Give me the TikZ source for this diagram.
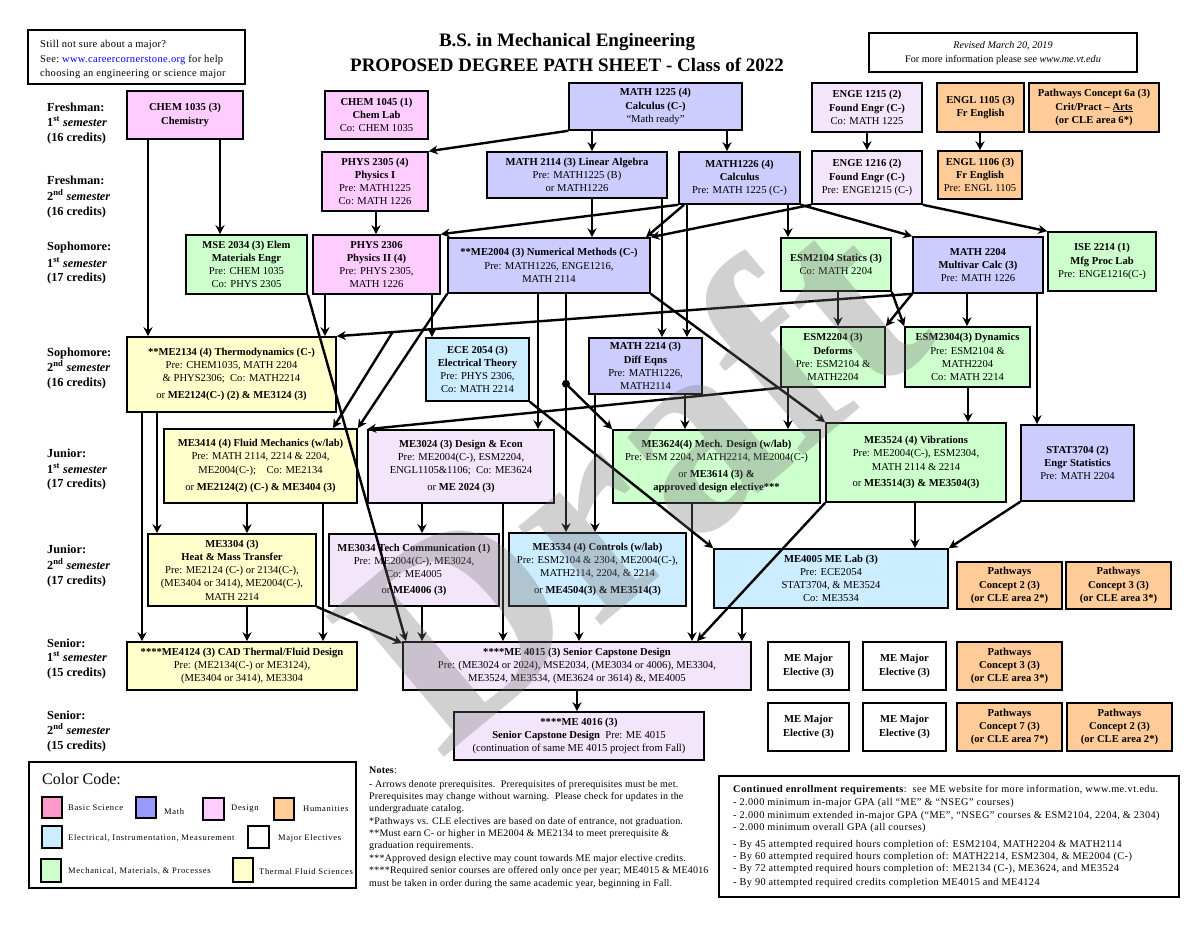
\documentclass[tikz,border=0pt]{standalone}
\usepackage{fontspec}
\setmainfont{Liberation Serif}
\usetikzlibrary{arrows.meta,calc}
\definecolor{basic}{HTML}{FFCCFF}
\definecolor{basicL}{HTML}{FF99CC}
\definecolor{mathc}{HTML}{CCCCFF}
\definecolor{mathL}{HTML}{9999FF}
\definecolor{design}{HTML}{F4E6FA}
\definecolor{designL}{HTML}{FFCCFF}
\definecolor{hum}{HTML}{FFCC99}
\definecolor{elec}{HTML}{CCECFF}
\definecolor{mech}{HTML}{CCFFCC}
\definecolor{therm}{HTML}{FFFFCC}
\definecolor{linkblue}{HTML}{0000FF}
\tikzset{
  box/.style={draw=black, line width=1.6pt, align=center, inner sep=1pt,
    font=\fontsize{10.6}{13.2}\selectfont},
  arr/.style={line width=2.4pt, -{Stealth[length=9pt,width=9pt,inset=3pt]}},
  lab/.style={anchor=base west, inner sep=0pt, font=\fontsize{12.3}{14}\selectfont\bfseries},
  note/.style={anchor=base west, inner sep=0pt, font=\fontsize{10}{12}\selectfont\addfontfeatures{LetterSpace=2}},
  cnote/.style={anchor=base west, inner sep=0pt, font=\fontsize{10.3}{12}\selectfont\addfontfeatures{LetterSpace=4}},
  swatch/.style={draw=black, line width=1.6pt},
  leg/.style={anchor=west, inner sep=0pt, font=\fontsize{8.5}{10}\selectfont\addfontfeatures{LetterSpace=8}},
}
\newcommand{\cbox}[7]{\node[box, fill=#6, minimum width={(#4)-(#2)}, minimum height={(#5)-(#3)}] (#1) at ({((#2)+(#4))/2},{((#3)+(#5))/2}) {#7};}
\newcommand{\vx}[3]{\draw[arr] (#1.south -| #3,0) -- (#2.north -| #3,0);}
\begin{document}
\begin{tikzpicture}[x=1pt,y=-1pt]
\useasboundingbox (0,0) rectangle (1200,927);
\fill[white] (0,0) rectangle (1200,927);

% header
\node[draw=black, line width=1.6pt, minimum width=217, minimum height=54, inner sep=0pt] (tl) at (136.5,57) {};
\node[note, font=\fontsize{10.5}{12}\selectfont\addfontfeatures{LetterSpace=3}] (tl1) at (40,47) {Still not sure about a major?};
\node[note, font=\fontsize{10.5}{12}\selectfont\addfontfeatures{LetterSpace=3}] (tl2) at (40,62) {See:\ \textcolor{linkblue}{www.careercornerstone.org} for help};
\node[note, font=\fontsize{10.5}{12}\selectfont\addfontfeatures{LetterSpace=3}] (tl3) at (40,76) {choosing an engineering or science major};
\node[font=\fontsize{19}{22}\selectfont\bfseries, inner sep=0pt] (t1) at (567,42) {B.S. in Mechanical Engineering};
\node[font=\fontsize{19}{22}\selectfont\bfseries, inner sep=0pt] (t2) at (567,65) {PROPOSED DEGREE PATH SHEET - Class of 2022};
\node[draw=black, line width=1.6pt, minimum width=268, minimum height=39, inner sep=0pt] (rev) at (1003,52.5) {};
\node[inner sep=0pt, font=\fontsize{10.2}{12}\selectfont\itshape] (rev1) at (1003,46) {Revised March 20, 2019};
\node[inner sep=0pt, font=\fontsize{10.2}{12}\selectfont] (rev2) at (1003,60) {For more information please see \textit{www.me.vt.edu}};

% semester labels
\node[lab] (f1a) at (47,111) {Freshman:};
\node[lab] (f1b) at (47,126) {1\textsuperscript{st} \textit{semester}};
\node[lab] (f1c) at (47,141) {(16 credits)};
\node[lab] (f2a) at (47,184) {Freshman:};
\node[lab] (f2b) at (47,200) {2\textsuperscript{nd} \textit{semester}};
\node[lab] (f2c) at (47,215) {(16 credits)};
\node[lab] (s1a) at (47,250) {Sophomore:};
\node[lab] (s1b) at (47,267) {1\textsuperscript{st} \textit{semester}};
\node[lab] (s1c) at (47,281) {(17 credits)};
\node[lab] (s2a) at (47,356) {Sophomore:};
\node[lab] (s2b) at (47,371) {2\textsuperscript{nd} \textit{semester}};
\node[lab] (s2c) at (47,386) {(16 credits)};
\node[lab] (j1a) at (47,457) {Junior:};
\node[lab] (j1b) at (47,473) {1\textsuperscript{st} \textit{semester}};
\node[lab] (j1c) at (47,487) {(17 credits)};
\node[lab] (j2a) at (47,553) {Junior:};
\node[lab] (j2b) at (47,569) {2\textsuperscript{nd} \textit{semester}};
\node[lab] (j2c) at (47,584) {(17 credits)};
\node[lab] (n1a) at (47,647) {Senior:};
\node[lab] (n1b) at (47,661) {1\textsuperscript{st} \textit{semester}};
\node[lab] (n1c) at (47,676) {(15 credits)};
\node[lab] (n2a) at (47,719) {Senior:};
\node[lab] (n2b) at (47,734) {2\textsuperscript{nd} \textit{semester}};
\node[lab] (n2c) at (47,749) {(15 credits)};

% course boxes
\cbox{chemA}{127}{91}{243}{139}{basic}{\textbf{CHEM 1035 (3)}\\\textbf{Chemistry}}
\cbox{chemB}{325}{91}{428}{139}{basic}{\textbf{CHEM 1045 (1)}\\\textbf{Chem Lab}\\Co: CHEM 1035}
\cbox{mathA}{569}{83}{742}{130}{mathc}{\textbf{MATH 1225 (4)}\\\textbf{Calculus (C-)}\\“Math ready”}
\cbox{engeA}{812}{83}{922}{132}{design}{\textbf{ENGE 1215 (2)}\\\textbf{Found Engr (C-)}\\Co: MATH 1225}
\cbox{englA}{937}{83}{1024}{132}{hum}{\textbf{ENGL 1105 (3)}\\\textbf{Fr English}}
\cbox{pathA}{1029}{83}{1159}{132}{hum}{\textbf{Pathways Concept 6a (3)}\\\textbf{Crit/Pract – \underline{Arts}}\\\textbf{(or CLE area 6*)}}
\cbox{physA}{322}{152}{428}{211}{basic}{\textbf{PHYS 2305 (4)}\\\textbf{Physics I}\\Pre: MATH1225\\Co: MATH 1226}
\cbox{mathB}{487}{152}{667}{198}{mathc}{\textbf{MATH 2114 (3) Linear Algebra}\\Pre: MATH1225 (B)\\or MATH1226}
\cbox{mathC}{679}{152}{800}{204}{mathc}{\textbf{MATH1226 (4)}\\\textbf{Calculus}\\Pre: MATH 1225 (C-)}
\cbox{engeB}{812}{151}{922}{204}{design}{\textbf{ENGE 1216 (2)}\\\textbf{Found Engr (C-)}\\Pre: ENGE1215 (C-)}
\cbox{englB}{938}{151}{1022}{199}{hum}{\textbf{ENGL 1106 (3)}\\\textbf{Fr English}\\Pre: ENGL 1105}
\cbox{mse}{186}{235}{307}{294}{mech}{\textbf{MSE 2034 (3) Elem}\\\textbf{Materials Engr}\\Pre: CHEM 1035\\Co: PHYS 2305}
\cbox{physB}{313}{235}{440}{294}{basic}{\textbf{PHYS 2306}\\\textbf{Physics II (4)}\\Pre: PHYS 2305,\\MATH 1226}
\cbox{meA}{448}{238}{650}{293}{mathc}{\textbf{**ME2004 (3) Numerical Methods (C-)}\\Pre: MATH1226, ENGE1216,\\MATH 2114}
\cbox{esmA}{781}{238}{891}{291}{mech}{\textbf{ESM2104 Statics (3)}\\Co: MATH 2204}
\cbox{mathD}{913}{237}{1043}{293}{mathc}{\textbf{MATH 2204}\\\textbf{Multivar Calc (3)}\\Pre: MATH 1226}
\cbox{ise}{1048}{232}{1156}{291}{mech}{\textbf{ISE 2214 (1)}\\\textbf{Mfg Proc Lab}\\Pre: ENGE1216(C-)}
\cbox{meB}{127}{337}{336}{412}{therm}{\textbf{**ME2134 (4) Thermodynamics (C-)}\\Pre: CHEM1035, MATH 2204\\\& PHYS2306;\enspace Co: MATH2214\\[4pt]or \textbf{ME2124(C-) (2) \& ME3124 (3)}}
\cbox{ece}{426}{338}{529}{401}{elec}{\textbf{ECE 2054 (3)}\\\textbf{Electrical Theory}\\Pre: PHYS 2306,\\Co: MATH 2214}
\cbox{mathE}{589}{338}{702}{394}{mathc}{\textbf{MATH 2214 (3)}\\\textbf{Diff Eqns}\\Pre: MATH1226,\\MATH2114}
\cbox{esmB}{781}{327}{885}{387}{mech}{\textbf{ESM2204 (3)}\\\textbf{Deforms}\\Pre: ESM2104 \&\\MATH2204}
\cbox{esmC}{905}{327}{1030}{387}{mech}{\textbf{ESM2304(3) Dynamics}\\Pre: ESM2104 \&\\MATH2204\\Co: MATH 2214}
\cbox{meC}{164}{429}{357}{503}{therm}{\textbf{ME3414 (4) Fluid Mechanics (w/lab)}\\Pre: MATH 2114, 2214 \& 2204,\\ME2004(C-);\quad Co: ME2134\\[4pt]or \textbf{ME2124(2) (C-) \& ME3404 (3)}}
\cbox{meD}{368}{430}{554}{503}{design}{\textbf{ME3024 (3) Design \& Econ}\\Pre: ME2004(C-), ESM2204,\\ENGL1105\&1106;\enspace Co: ME3624\\[4pt]or \textbf{ME 2024 (3)}}
\cbox{meE}{613}{430}{820}{503}{mech}{\textbf{ME3624(4) Mech. Design (w/lab)}\\Pre: ESM 2204, MATH2214, ME2004(C-)\\[4pt]or \textbf{ME3614 (3) \&}\\\textbf{approved design elective***}}
\cbox{meF}{826}{423}{1006}{502}{mech}{\textbf{ME3524 (4) Vibrations}\\Pre: ME2004(C-), ESM2304,\\MATH 2114 \& 2214\\[3pt]or \textbf{ME3514(3) \& ME3504(3)}}
\cbox{stat}{1021}{425}{1134}{501}{mathc}{\textbf{STAT3704 (2)}\\\textbf{Engr Statistics}\\Pre: MATH 2204}
\cbox{meG}{148}{534}{316}{606}{therm}{\textbf{ME3304 (3)}\\\textbf{Heat \& Mass Transfer}\\Pre: ME2124 (C-) or 2134(C-),\\(ME3404 or 3414), ME2004(C-),\\MATH 2214}
\cbox{meH}{329}{534}{499}{606}{design}{\textbf{ME3034 Tech Communication (1)}\\Pre: ME2004(C-), ME3024,\\Co: ME4005\\[3pt]or \textbf{ME4006 (3)}}
\cbox{meI}{509}{533}{686}{606}{elec}{\textbf{ME3534 (4) Controls (w/lab)}\\Pre: ESM2104 \& 2304, ME2004(C-),\\MATH2114, 2204, \& 2214\\[4pt]or \textbf{ME4504(3) \& ME3514(3)}}
\cbox{meJ}{714}{549}{948}{608}{elec}{\textbf{ME4005 ME Lab (3)}\\Pre: ECE2054\\STAT3704, \& ME3524\\Co: ME3534}
\cbox{pwA}{957}{562}{1062}{609}{hum}{\textbf{Pathways}\\\textbf{Concept 2 (3)}\\\textbf{(or CLE area 2*)}}
\cbox{pwB}{1066}{562}{1171}{609}{hum}{\textbf{Pathways}\\\textbf{Concept 3 (3)}\\\textbf{(or CLE area 3*)}}
\cbox{meK}{127}{642}{357}{690}{therm}{\textbf{****ME4124 (3) CAD Thermal/Fluid Design}\\Pre: (ME2134(C-) or ME3124),\\(ME3404 or 3414), ME3304}
\cbox{meL}{403}{642}{751}{690}{design}{\textbf{****ME 4015 (3) Senior Capstone Design}\\Pre: (ME3024 or 2024), MSE2034, (ME3034 or 4006), ME3304,\\ME3524, ME3534, (ME3624 or 3614) \&, ME4005}
\cbox{elA}{768}{642}{849}{690}{white}{\textbf{ME Major}\\\textbf{Elective (3)}}
\cbox{elB}{863}{642}{946}{690}{white}{\textbf{ME Major}\\\textbf{Elective (3)}}
\cbox{pwC}{957}{642}{1062}{690}{hum}{\textbf{Pathways}\\\textbf{Concept 3 (3)}\\\textbf{(or CLE area 3*)}}
\cbox{meM}{454}{712}{704}{760}{design}{\textbf{****ME 4016 (3)}\\\textbf{Senior Capstone Design}\enspace Pre: ME 4015\\(continuation of same ME 4015 project from Fall)}
\cbox{elC}{768}{703}{849}{751}{white}{\textbf{ME Major}\\\textbf{Elective (3)}}
\cbox{elD}{863}{703}{946}{751}{white}{\textbf{ME Major}\\\textbf{Elective (3)}}
\cbox{pwD}{957}{703}{1062}{751}{hum}{\textbf{Pathways}\\\textbf{Concept 7 (3)}\\\textbf{(or CLE area 7*)}}
\cbox{pwE}{1067}{703}{1172}{751}{hum}{\textbf{Pathways}\\\textbf{Concept 2 (3)}\\\textbf{(or CLE area 2*)}}

% connectors
\vx{chemA}{meB}{148}
\vx{chemA}{mse}{220}
\draw[arr] (mathA.south west) -- (physA.north east);
\vx{mathA}{mathB}{592}
\vx{mathA}{mathC}{727}
\vx{engeA}{engeB}{867}
\vx{englA}{englB}{980}
\vx{physA}{physB}{376}
\vx{mathB}{meA}{592}
\vx{mathB}{mathE}{662}
\vx{mathC}{mathE}{687}
\draw[arr] (mathC.south -| 684,0) -- (meA.north -| 646,0);
\draw[arr] (mathC.south west) -- (physB.north east);
\vx{mathC}{esmA}{788}
\draw[arr] (mathC.south east) -- (mathD.north west);
\draw[arr] (engeB.south west) -- (meA.north east);
\draw[arr] (engeB.south east) -- (ise.north west);
\vx{physB}{meB}{325}
\vx{physB}{ece}{432}
\draw[arr] (mse.south east) -- (meL.north -| 406,0);
\coordinate (J1) at ($(mathD.south west)!0.903!(meB.north east)$);
\draw[arr] (mathD.south west) -- (J1) -- (meB.north east);
\draw[arr] (J1) -- (meC.north -| 333,0);
\draw[arr] (meA.south west) -- (meC.north east);
\vx{meA}{meD}{538}
\vx{meA}{meI}{566}
\coordinate (J2) at ($(meA.south -| 566,0)+(0,90)$);
\fill (J2) circle (4);
\draw[arr] (J2) -- (meE.north west);
\draw[arr] (meA.south east) -- (meF.north west);
\vx{mathE}{meI}{595}
\vx{mathE}{meE}{685}
\draw[arr] (ece.south east) -- (meJ.north west);
\vx{esmA}{esmB}{838}
\draw[arr] (esmA.south east) -- (esmC.north west);
\draw[arr] (mathD.south west) -- (esmB.north east);
\vx{mathD}{esmC}{967}
\vx{mathD}{stat}{1037}
\vx{esmB}{meE}{788}
\draw[arr] (esmB.south west) -- (meD.north west);
\vx{esmC}{meF}{968}
\vx{meC}{meG}{247}
\vx{meC}{meK}{323}
\vx{meB}{meK}{142}
\vx{meB}{meG}{157}
\vx{meG}{meK}{247}
\draw[arr] (meG.south east) -- ([yshift=-2pt]meL.north west);
\vx{meD}{meH}{422}
\vx{meD}{meL}{503}
\vx{meH}{meL}{422}
\vx{meI}{meL}{579}
\vx{meE}{meL}{692}
\draw[arr] (meF.south west) -- (meL.north -| 697,0);
\vx{meF}{meJ}{915}
\draw[arr] (stat.south west) -- (meJ.north east);
\vx{meJ}{meL}{742}
\vx{meL}{meM}{577}

% legend
\node[draw=black, line width=1.6pt, minimum width=327, minimum height=126, inner sep=0pt] (legend) at (192.5,825) {};
\node[anchor=base west, inner sep=0pt, font=\fontsize{16}{18}\selectfont] (cc) at (42,784) {Color Code:};
\draw[swatch, fill=basicL] (42,797) rectangle (62,818);
\node[leg] (lg1) at (68,808) {Basic Science};
\draw[swatch, fill=mathL] (136,797) rectangle (156,818);
\node[leg] (lg2) at (164,812) {Math};
\draw[swatch, fill=designL] (203,798) rectangle (224,820);
\node[leg] (lg3) at (231,809) {Design};
\draw[swatch, fill=hum] (274,798) rectangle (294,820);
\node[leg] (lg4) at (303,809) {Humanities};
\draw[swatch, fill=elec] (42,826) rectangle (62,848);
\node[leg] (lg5) at (68,838) {Electrical, Instrumentation, Measurement};
\draw[swatch, fill=white] (248,826) rectangle (269,848);
\node[leg] (lg6) at (278,838) {Major Electives};
\draw[swatch, fill=mech] (41,859) rectangle (61,882);
\node[leg] (lg7) at (68,871) {Mechanical, Materials, \& Processes};
\draw[swatch, fill=therm] (233,858) rectangle (253,882);
\node[leg] (lg8) at (259,872) {Thermal Fluid Sciences};

% notes
\node[note] (nt0) at (369,773) {\textbf{Notes}:};
\node[note] (nt1) at (369,787) {- Arrows denote prerequisites.\ \ Prerequisites of prerequisites must be met.};
\node[note] (nt2) at (369,799) {Prerequisites may change without warning.\ \ Please check for updates in the};
\node[note] (nt3) at (369,811) {undergraduate catalog.};
\node[note] (nt4) at (369,824) {*Pathways vs. CLE electives are based on date of entrance, not graduation.};
\node[note] (nt5) at (369,836) {**Must earn C- or higher in ME2004 \& ME2134 to meet prerequisite \&};
\node[note] (nt6) at (369,848) {graduation requirements.};
\node[note] (nt7) at (369,861) {***Approved design elective may count towards ME major elective credits.};
\node[note] (nt8) at (369,873) {****Required senior courses are offered only once per year; ME4015 \& ME4016};
\node[note] (nt9) at (369,886) {must be taken in order during the same academic year, beginning in Fall.};

% continued enrollment
\node[draw=black, line width=1.6pt, minimum width=460, minimum height=121, inner sep=0pt] (cont) at (949,836.5) {};
\node[cnote] (ce0) at (733,792) {\textbf{Continued enrollment requirements}:\ \ see ME website for more information, www.me.vt.edu.};
\node[cnote] (ce1) at (733,805) {- 2.000 minimum in-major GPA (all “ME” \& “NSEG” courses)};
\node[cnote] (ce2) at (733,818) {- 2.000 minimum extended in-major GPA (“ME”, “NSEG” courses \& ESM2104, 2204, \& 2304)};
\node[cnote] (ce3) at (733,830) {- 2.000 minimum overall GPA (all courses)};
\node[cnote] (ce4) at (733,847) {- By 45 attempted required hours completion of: ESM2104, MATH2204 \& MATH2114};
\node[cnote] (ce5) at (733,859) {- By 60 attempted required hours completion of: MATH2214, ESM2304, \& ME2004 (C-)};
\node[cnote] (ce6) at (733,871) {- By 72 attempted required hours completion of: ME2134 (C-), ME3624, and ME3524};
\node[cnote] (ce7) at (733,885) {- By 90 attempted required credits completion ME4015 and ME4124};

% watermark
\node[rotate=40, text=black!55, opacity=0.32, inner sep=0pt, font=\fontsize{280}{280}\selectfont\bfseries] (wm) at (628,476) {Draft};
\end{tikzpicture}
\end{document}
